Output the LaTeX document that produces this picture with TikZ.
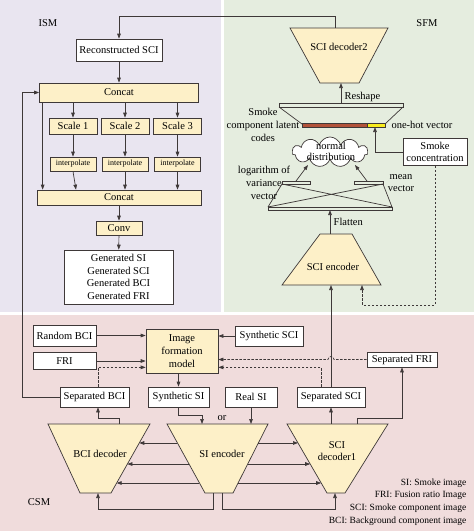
\documentclass[tikz,border=0pt]{standalone}
\usepackage{fontspec}
\setmainfont{Liberation Serif}
\usetikzlibrary{arrows.meta,calc,shapes.symbols}
\definecolor{ismbg}{RGB}{233,229,240}
\definecolor{sfmbg}{RGB}{229,237,223}
\definecolor{csmbg}{RGB}{240,220,220}
\definecolor{boxyel}{RGB}{253,240,200}
\definecolor{linec}{RGB}{62,56,56}
\definecolor{codebar}{RGB}{178,82,58}
\definecolor{hotbar}{RGB}{248,236,30}

\begin{document}
\begin{tikzpicture}[x=1pt,y=-1pt,color=linec,line width=0.7pt,
    every node/.style={font=\fontsize{10.5}{12.7}\selectfont,text=black},
    box/.style={draw=linec,fill=white,inner sep=0pt,align=center},
    ybox/.style={box,fill=boxyel},
    trap/.style={draw=linec,fill=boxyel},
    arr/.style={-{Triangle[length=5pt,width=3.6pt]}},
    dsh/.style={dash pattern=on 2.5pt off 1.5pt},
    small/.style={font=\fontsize{8}{9}\selectfont}]
  \useasboundingbox (0,0) rectangle (474,531);
  % panels
  \fill[ismbg] (0,0) rectangle (221,312);
  \fill[sfmbg] (224,0) rectangle (474,312);
  \fill[csmbg] (0,315) rectangle (474,531);
  \node (ism) at (48,23) {ISM};
  \node (sfm) at (427,23) {SFM};
  \node (csm) at (39,502) {CSM};

  % ISM
  \node[box,minimum width=86,minimum height=22] (rec) at (119,50) {Reconstructed SCI};
  \node[ybox,minimum width=159,minimum height=19] (cat1) at (119,92.5) {Concat};
  \foreach \s/\x in {1/73,2/125,3/177.5} {
    \node[ybox,minimum width=48,minimum height=16] (sc\s) at (\x,126) {Scale \s};
    \node[ybox,small,minimum width=46,minimum height=14] (ip\s) at (\x,164) {interpolate};
  }
  \node[ybox,minimum width=164,minimum height=15] (cat2) at (119,197.5) {Concat};
  \node[ybox,minimum width=46,minimum height=14] (conv) at (119,228) {Conv};
  \node[box,minimum width=109,minimum height=54] (gen) at (118.5,277)
    {Generated SI\\Generated SCI\\Generated BCI\\Generated FRI};

  \draw[arr] (rec) -- (cat1);
  \foreach \s in {1,2,3} {
    \draw[arr] (sc\s.north |- cat1.south) -- (sc\s);
    \draw[arr] (sc\s) -- (ip\s);
  }
  \coordinate (ip1b) at ([xshift=3pt]ip1.south);
  \draw[arr] (ip1.south) -- (ip1b |- cat2.north);
  \draw[arr] (ip2) -- (ip2 |- cat2.north);
  \draw[arr] (ip3) -- (ip3 |- cat2.north);
  \coordinate (skipa) at ([xshift=3.5pt]cat1.south west);
  \draw[arr] (skipa) -- (skipa |- cat2.north);
  \draw[arr] (cat2) -- (conv);
  \draw[arr] (conv) -- (gen);

  % SFM
  \draw[trap] (290,28) -- (388,28) -- (359,83) -- (320,83) -- cycle;
  \node (dec2) at (339,47) {SCI decoder2};
  \coordinate (d2top) at (335,28);
  \coordinate (d2bot) at (341,83);
  \draw[arr] (d2top) -- ++(0,-12) -| (rec.north);

  % latent codes
  \draw[line width=0.5pt] (279,103) rectangle (403,107);
  \draw (279,107) -- (302,124) (403,107) -- (385,124);
  \draw[fill=codebar,line width=0.4pt] (302,123) rectangle (367,127);
  \draw[fill=hotbar,line width=0.4pt] (367,123) rectangle (385,127);
  \coordinate (lat) at (341,103);
  \coordinate (hot) at (375,127);
  \draw[arr] (lat) -- (d2bot) node[right,pos=0.3] (reshape) {Reshape};
  \node[align=center] (codes) at (263,125) {Smoke\\component latent\\codes};
  \node (hotv) at (422,125) {one-hot vector};
  \node[box,minimum width=64,minimum height=27] (smc) at (435,152) {Smoke\\concentration};
  \draw[arr] (smc.west) -| (hot);

  \node[cloud,cloud puffs=11,aspect=2.6,draw=linec,fill=white,inner sep=0pt,
    minimum width=76,minimum height=30] (nd) at (330,152) {};
  \node[align=center,font=\fontsize{10.5}{11}\selectfont] (ndtxt) at (331,151) {normal\\distribution};

  % fully connected
  \draw[line width=0.5pt] (268,207) rectangle (392,210);
  \draw[line width=0.5pt] (282,181) rectangle (310,184);
  \draw[line width=0.5pt] (354,181) rectangle (383,184);
  \draw (282,184) -- (268,207) (383,184) -- (392,207)
        (282,184) -- (392,207) (383,184) -- (268,207);
  \node[align=center] (lvar) at (264,183) {logarithm of\\variance\\vector};
  \node[align=center] (mvec) at (401,183) {mean\\vector};
  \coordinate (lvt) at (296,181);
  \coordinate (mvt) at (367,181);
  \coordinate (ndl) at (308,165);
  \coordinate (ndr) at (355,165);
  \draw[arr] (lvt) -- (ndl);
  \draw[arr] (mvt) -- (ndr);

  \draw[trap] (320,234) -- (352,234) -- (381,285) -- (282,285) -- cycle;
  \node (enc) at (333,267) {SCI encoder};
  \coordinate (enct) at (330,234);
  \coordinate (fcb) at (330,210);
  \coordinate (encb1) at (331,285);
  \coordinate (encb2) at (362,285);
  \draw[arr] (enct) -- (fcb) node[right,midway] (flat) {Flatten};
  \draw[arr,dsh] (smc.south) -- ++(0,139) -| (encb2);

  % CSM
  \node[ybox,minimum width=72,minimum height=44] (ifm) at (182,351) {Image\\formation\\model};
  \node[box,minimum width=63,minimum height=21] (rbci) at (64.5,335.5) {Random BCI};
  \node[box,minimum width=63,minimum height=17] (fri) at (64.5,361) {FRI};
  \node[box,minimum width=68,minimum height=20] (synsci) at (269,336) {Synthetic SCI};
  \node[box,minimum width=70,minimum height=15] (sepfri) at (402,359.5) {Separated FRI};
  \node[box,minimum width=69,minimum height=20] (sepbci) at (94.5,397) {Separated BCI};
  \node[box,minimum width=61,minimum height=20] (synsi) at (178.5,397) {Synthetic SI};
  \node[box,minimum width=52,minimum height=20] (realsi) at (251,397) {Real SI};
  \node[box,minimum width=68,minimum height=20] (sepsci) at (331,397) {Separated SCI};
  \node (orlbl) at (222,418) {or};

  \draw[trap] (48,424) coordinate (bd-tl) -- (150,424) coordinate (bd-tr)
    -- (111,493) coordinate (bd-br) -- (80,493) coordinate (bd-bl) -- cycle;
  \node (bcidec) at (100,454) {BCI decoder};
  \draw[trap] (167,424) coordinate (se-tl) -- (268,424) coordinate (se-tr)
    -- (233,493) coordinate (se-br) -- (205,493) coordinate (se-bl) -- cycle;
  \node (sienc) at (222,454) {SI encoder};
  \draw[trap] (287,424) coordinate (sd-tl) -- (388,424) coordinate (sd-tr)
    -- (345,493) coordinate (sd-br) -- (327,493) coordinate (sd-bl) -- cycle;
  \node[align=center,font=\fontsize{10.5}{11.5}\selectfont] (scidec1) at (337,451) {SCI\\decoder1};

  \draw[arr] (rbci) -- (rbci -| ifm.west);
  \draw[arr] (fri) -- (fri -| ifm.west);
  \coordinate (sbt) at ([xshift=3.5pt]sepbci.north);
  \coordinate (sbb) at ([xshift=3.5pt]sepbci.south);
  \draw[arr,dsh] (sbt) |- ([yshift=6pt]ifm.south west);
  \draw[arr] (synsci) -- (synsci -| ifm.east);
  \draw[arr,dsh] (sepfri.west) -- ($(sepsci.north |- sepfri.west)+(3,0)$)
    arc[start angle=0,end angle=180,radius=3pt] -- (sepfri.west -| ifm.east);
  \coordinate (sst) at ([xshift=-10pt]sepsci.north);
  \draw[arr,dsh] (sst) |- ([yshift=6pt]ifm.south east);
  \draw[arr] (ifm.south -| synsi) -- (synsi);
  \draw[arr] (sepbci.west) -- ++(-37,0) |- (cat1.west);
  \draw[arr] (sepsci) -- (encb1);

  \coordinate (sie1) at (202,424);
  \coordinate (bdt) at (119,424);
  \coordinate (sdt1) at (331,424);
  \coordinate (sdt2) at (357,424);
  \coordinate (seb1) at (213,493);
  \coordinate (seb2) at (222,493);
  \coordinate (bdb) at (98,493);
  \coordinate (sdb) at (335,493);
  \draw[arr] (synsi.south) -- ++(0,8) -| (sie1);
  \draw[arr] (realsi.south) -- (realsi.south |- se-tl);
  \draw[arr] (bdt) -- ++(0,-6) -| (sbb);
  \draw[arr] (sdt1) -- (sepsci);
  \draw[arr] (sdt2) -- ++(0,-6) -| (sepfri);
  \draw[arr] (seb1) -- ++(0,16) -| (bdb);
  \draw[arr] (seb2) -- ++(0,16) -| (sdb);
  \foreach \t in {0.275,0.58,0.855} {
    \draw[arr] ($(se-tl)!\t!(se-bl)$) -- ($(bd-tr)!\t!(bd-br)$);
    \draw[arr] ($(se-tr)!\t!(se-br)$) -- ($(sd-tl)!\t!(sd-bl)$);
  }

  \node[align=right,anchor=east,font=\fontsize{9.5}{12.7}\selectfont] (legend) at (470,502)
    {SI: Smoke image\\FRI: Fusion ratio Image\\SCI: Smoke component image\\BCI: Background component image};
\end{tikzpicture}
\end{document}
